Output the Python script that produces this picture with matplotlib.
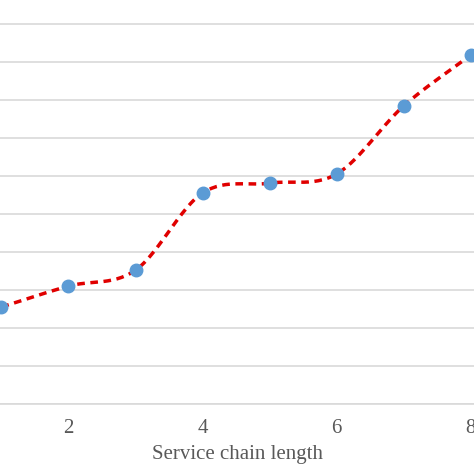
import numpy as np
import matplotlib
matplotlib.use("Agg")
import matplotlib.pyplot as plt

x = [1, 2, 3, 4, 5, 6, 7, 8]
y = [2.54, 3.09, 3.51, 5.54, 5.80, 6.04, 7.83, 9.17]
xticks = [2, 4, 6, 8]

def catmull(xs, ys, n=30):
    xs = np.array(xs, float); ys = np.array(ys, float)
    P = np.column_stack([xs, ys])
    P = np.vstack([2*P[0]-P[1], P, 2*P[-1]-P[-2]])
    out = []
    for i in range(1, len(P)-2):
        p0, p1, p2, p3 = P[i-1], P[i], P[i+1], P[i+2]
        t = np.linspace(0, 1, n)[:, None]
        pt = 0.5*((2*p1) + (-p0+p2)*t + (2*p0-5*p1+4*p2-p3)*t**2 + (-p0+3*p1-3*p2+p3)*t**3)
        out.append(pt)
    out = np.vstack(out)
    return out[:, 0], out[:, 1]

fig = plt.figure(figsize=(4.74, 4.74), dpi=100)
ax = fig.add_axes([0, 0.1487, 1, 0.8513])
sx, sy = catmull(x, y)
ax.plot(sx, sy, color="#e00000", lw=2.5, ls=(0, (2.2, 1.6)), zorder=3)
ax.plot(x, y, "o", color="#5b9bd5", ms=9, zorder=4, clip_on=False)
ax.set_xlim(0.978, 8.05)
ax.set_ylim(0, 10.62)
ax.set_yticks(np.arange(0, 11, 1))
ax.yaxis.grid(True, color="#d9d9d9", lw=1.2)
ax.set_axisbelow(True)
ax.tick_params(axis="y", left=False, labelleft=False)
ax.tick_params(axis="x", length=0, pad=11, labelcolor="#595959", labelsize=15)
ax.set_xticks(xticks)
for l in ax.get_xticklabels():
    l.set_fontfamily("Liberation Serif")
for s in ["top", "right", "left"]:
    ax.spines[s].set_visible(False)
ax.spines["bottom"].set_color("#d9d9d9")
ax.spines["bottom"].set_linewidth(1.2)
ax.set_xlabel("Service chain length", family="Liberation Serif", fontsize=15, color="#595959", labelpad=5)
fig.savefig("out.png", dpi=100)
